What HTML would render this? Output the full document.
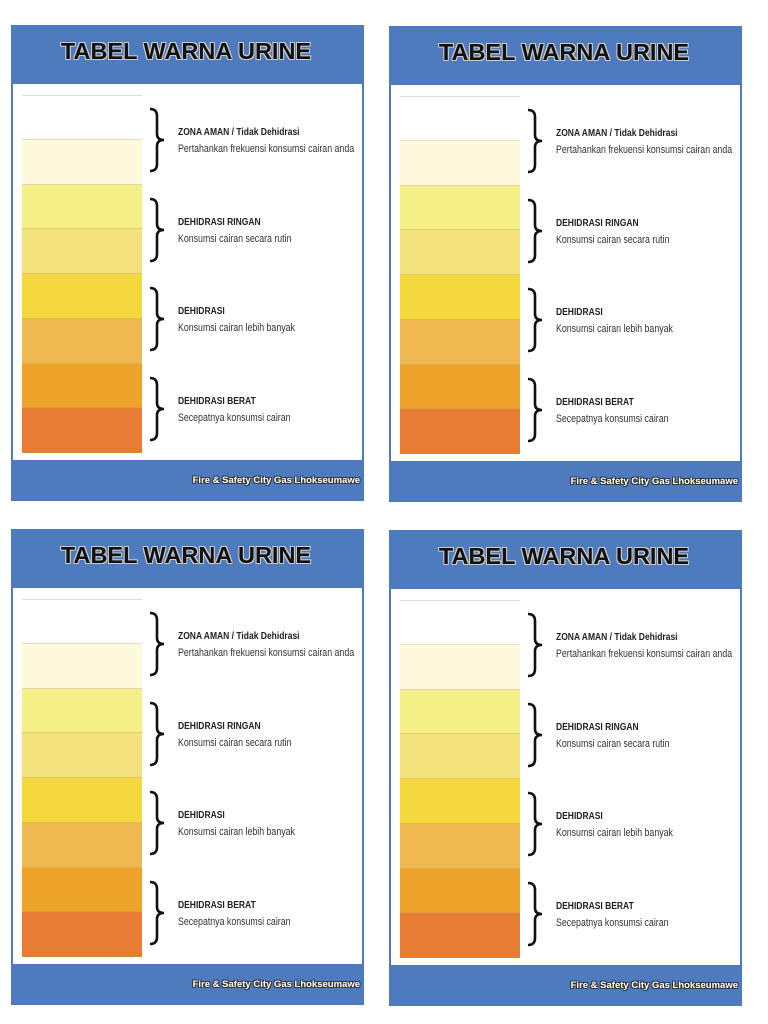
<!DOCTYPE html>
<html><head><meta charset="utf-8"><style>
body{margin:0;width:768px;height:1024px;background:#fff;position:relative;overflow:hidden;font-family:"Liberation Sans",sans-serif}
.card{position:absolute;width:353px;height:476px;background:#4e7bbd}
.panel{position:absolute;left:2px;top:59px;width:349px;height:376px;background:#fff}
.title{position:absolute;left:0;top:13px;width:350px;text-align:center;font-weight:bold;font-size:23.5px;color:#111;text-shadow:-1px -1px 0 #ccc,1px -1px 0 #ccc,-1px 1px 0 #ccc,1px 1px 0 #ccc}
.sw{position:absolute;left:11px;width:120px;height:44.75px;box-sizing:border-box;border-bottom:1px solid rgba(180,150,80,.35)}
.br{position:absolute;left:137px;width:18px;height:66px}
.lab{position:absolute;left:167px;font-size:10px;font-weight:bold;color:#222;transform:scaleX(.85);transform-origin:left;white-space:nowrap}
.sub{position:absolute;left:167px;font-size:11px;color:#333;transform:scaleX(.80);transform-origin:left;white-space:nowrap}
.foot{position:absolute;right:4px;top:450px;font-size:9.5px;font-weight:bold;color:#fff;text-shadow:-1px -1px 0 #333,1px -1px 0 #333,-1px 1px 0 #333,1px 1px 0 #333;transform:scaleX(1.0);transform-origin:right;white-space:nowrap}
</style></head><body>
<div id="root"></div>
<script>
const cardPos=[[11,25],[389,26],[11,529],[389,530]];
const colors=["#ffffff","#fdf9dc","#f5ef88","#f3e27c","#f4d83e","#f0b851","#eea42b","#e77c35"];
const labels=["ZONA AMAN / Tidak Dehidrasi","DEHIDRASI RINGAN","DEHIDRASI","DEHIDRASI BERAT"];
const subs=["Pertahankan frekuensi konsumsi cairan anda","Konsumsi cairan secara rutin","Konsumsi cairan lebih banyak","Secepatnya konsumsi cairan"];
let html="";
cardPos.forEach((p,ci)=>{
 html+=`<div class="card" style="left:${p[0]}px;top:${p[1]}px">`;
 html+=`<div class="title">TABEL WARNA URINE</div>`;
 html+=`<div class="panel"></div>`;
 colors.forEach((c,i)=>{
  html+=`<div class="sw" style="top:${70+i*44.75}px;background:${c};${i==0?'border-top:1px solid #ddd;':''}"></div>`;
 });
 labels.forEach((l,g)=>{
  const y=70+g*89.5;
  html+=`<svg class="br" style="top:${y+12}px" viewBox="0 0 18 66"><path d="M2 2 Q9 2 9 9 L9 27 Q9 33 16 33 Q9 33 9 39 L9 57 Q9 64 2 64" fill="none" stroke="#111" stroke-width="2.6"/></svg>`;
  html+=`<div class="lab" style="top:${y+32}px">${l}</div>`;
  html+=`<div class="sub" style="top:${y+48}px">${subs[g]}</div>`;
 });
 html+=`<div class="foot">Fire &amp; Safety City Gas Lhokseumawe</div></div>`;
});
document.getElementById('root').innerHTML=html;
</script>
</body></html>
